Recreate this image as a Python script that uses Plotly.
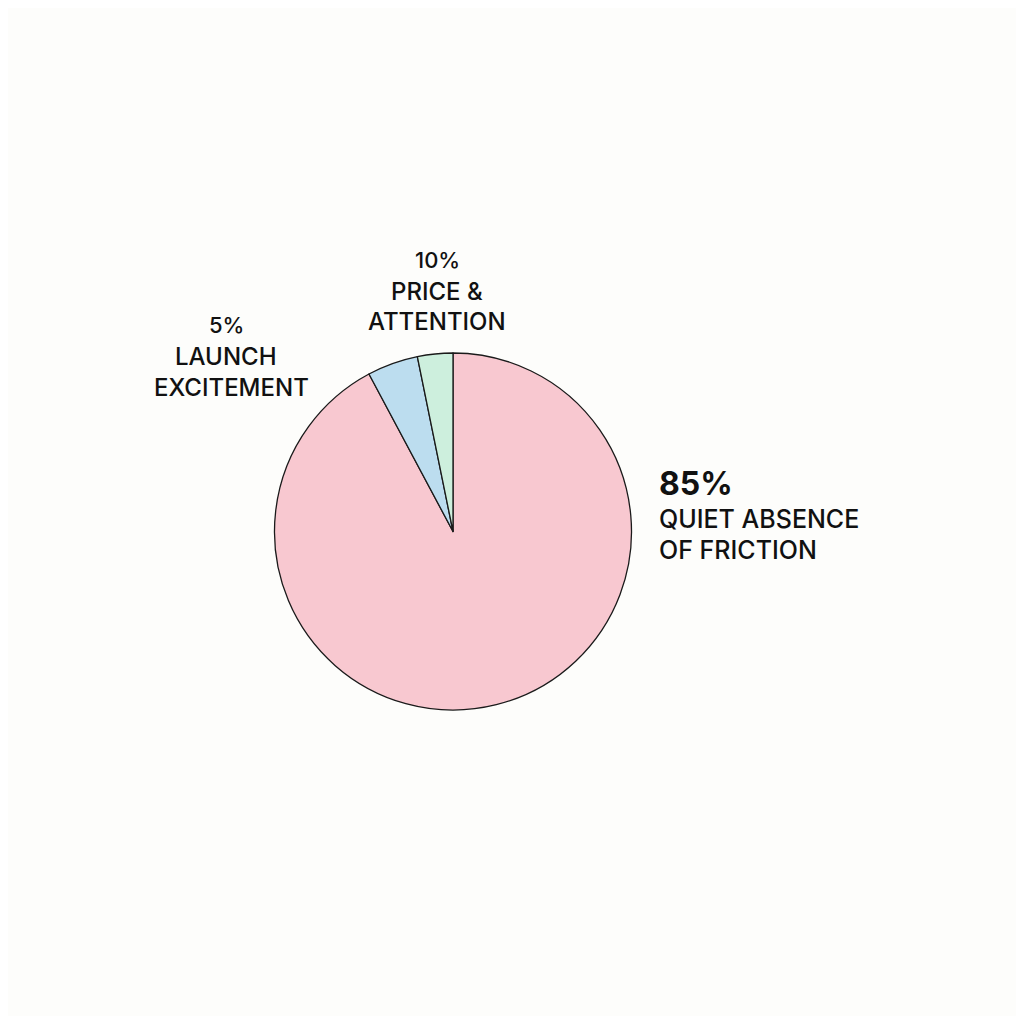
import plotly.graph_objects as go

categories = ["Quiet Absence of Friction", "Launch Excitement", "Price & Attention"]
slice_values = [92.2, 4.6, 3.2]
colors = ["#F8C8D0", "#BCDDEF", "#CDEFDD"]
label_pcts = ["85%", "5%", "10%"]
label_lines = [["QUIET ABSENCE", "OF FRICTION"], ["LAUNCH", "EXCITEMENT"], ["PRICE &", "ATTENTION"]]

OFF = 8  # page body margin
W = H = 1024 - 2 * OFF
FONT = "Inter"

def px(x):
    return (x - OFF) / W

def py(y):
    return 1 - (y - OFF) / H

fig = go.Figure(go.Pie(
    labels=categories, values=slice_values, sort=False,
    direction="clockwise", rotation=0,
    marker=dict(colors=colors, line=dict(color="#1a1a1a", width=1.3)),
    textinfo="none", hoverinfo="label+percent", showlegend=False,
    domain=dict(x=[px(274), px(632)], y=[py(710), py(353)]),
))

def ann(text, x, y, size, anchor="center", weight=500):
    fig.add_annotation(
        x=px(x), y=py(y), xref="paper", yref="paper",
        text=text, showarrow=False,
        xanchor=anchor, yanchor="middle",
        font=dict(family=FONT, size=size, color="#111111", weight=weight),
    )

# Quiet Absence (right)
ann(label_pcts[0], 657, 483, 32, anchor="left", weight=700)
ann(label_lines[0][0], 657, 519, 25, anchor="left")
ann(label_lines[0][1], 657, 550, 25, anchor="left")
# Launch Excitement (left)
ann(label_pcts[1], 226, 325, 22)
ann(label_lines[1][0], 226, 356, 24)
ann(label_lines[1][1], 231, 387, 24)
# Price & Attention (top)
ann(label_pcts[2], 437, 260, 22)
ann(label_lines[2][0], 437, 291, 24)
ann(label_lines[2][1], 437, 321, 24)

fig.update_layout(
    width=W, height=H, margin=dict(l=0, r=0, t=0, b=0),
    paper_bgcolor="#FDFDFB", plot_bgcolor="#FDFDFB",
)
fig.write_html("out.html")
